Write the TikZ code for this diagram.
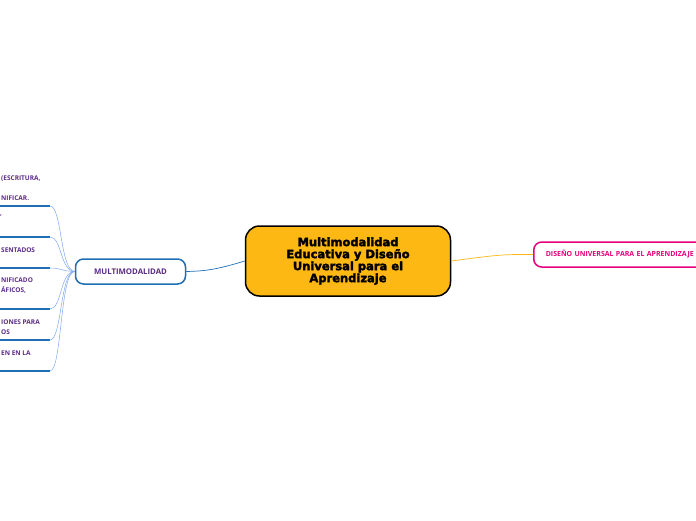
\documentclass[tikz,border=0pt]{standalone}
\usepackage{fontspec}
\setmainfont{Open Sans}
\newfontfamily\heavy[FakeBold=2.5]{DejaVu Sans}
\definecolor{cblue}{HTML}{1F6FB5}
\definecolor{lblue}{HTML}{7FA7F0}
\definecolor{cpurple}{HTML}{5B2A86}
\definecolor{corange}{HTML}{FDB813}
\definecolor{cmag}{HTML}{E6007E}
\begin{document}
\begin{tikzpicture}[x=1pt,y=-1pt,
  leaf/.style={font=\bfseries\fontsize{6.5}{10}\selectfont,text=cpurple,inner sep=0pt,anchor=west,align=left},
  uline/.style={cblue,line width=1.6pt},
  link/.style={lblue,line width=0.5pt}]
\useasboundingbox (0,0) rectangle (696,520);
\clip (0,0) rectangle (696,520);
\node[draw=black,line width=1.5pt,fill=corange,rounded corners=14pt,minimum width=205pt,minimum height=70pt,
  font=\heavy\bfseries\fontsize{11.5}{12}\selectfont,align=center] (root) at (348,261)
  {Multimodalidad\\Educativa y Diseño\\Universal para el\\Aprendizaje};
\node[draw=cblue,line width=1.5pt,fill=white,rounded corners=8pt,minimum width=110pt,minimum height=25pt,
  font=\bfseries\fontsize{7.8}{8}\selectfont,text=cpurple] (mm) at (130.5,271.5) {MULTIMODALIDAD};
\node[draw=cmag,line width=1.5pt,fill=white,rounded corners=8pt,minimum width=170pt,minimum height=25pt,anchor=west,
  font=\bfseries\fontsize{7}{8}\selectfont,text=cmag,text width=190pt,inner xsep=12pt] (dua) at (533,254.5) {DISEÑO UNIVERSAL PARA EL APRENDIZAJE};
\draw[cblue,line width=0.7pt] (root.west) .. controls (215,270) and (205,271) .. (mm.east);
\draw[corange,line width=0.7pt] (root.east) .. controls (490,256) and (500,254) .. (dua.west);
% leaves
\node[leaf] (t1) at (1,179) {(ESCRITURA,};
\node[leaf] (t2) at (1,198) {NIFICAR.};
\node[leaf] (t3) at (0,216) {,};
\node[leaf] (t4) at (1,250) {SENTADOS};
\node[leaf] (t5) at (1,286) {NIFICADO\\ÁFICOS,};
\node[leaf] (t6) at (1,327) {IONES PARA\\OS};
\node[leaf] (t7) at (1,353) {EN EN LA};
\foreach \n/\y in {a/206,b/237,c/268,d/309,e/340,f/371}{
  \coordinate (s\n) at (0,\y); \coordinate (e\n) at (50,\y);
  \draw[uline] (s\n) -- (e\n);
  \draw[link] (e\n) .. controls (62,\y) and (60,271) .. (mm.west);
}
\end{tikzpicture}
\end{document}
